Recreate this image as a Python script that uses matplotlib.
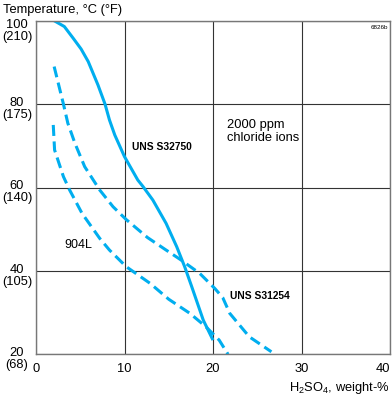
import numpy as np
import matplotlib
matplotlib.use('Agg')
import matplotlib.pyplot as plt
import matplotlib.transforms as mtransforms

plt.rcParams['font.family'] = ['Liberation Sans', 'DejaVu Sans']
plt.rcParams['mathtext.fontset'] = 'custom'
plt.rcParams['mathtext.rm'] = 'Liberation Sans'
plt.rcParams['mathtext.it'] = 'Liberation Sans:italic'

# 数据 (H2SO4 wt-%, 温度 °C)
s32750_x = [2.05, 3.2, 4.2, 5.1, 5.9, 7.0, 7.8, 8.3, 8.9, 10.0, 11.5, 12.1, 13.2, 14.7, 15.9, 16.8, 17.6, 18.9, 20.0]
s32750_y = [100, 98.6, 95.8, 93.2, 90.2, 84.6, 80, 76.2, 72.6, 67.4, 61.8, 60.2, 57, 51.4, 45.8, 41, 36.2, 28.2, 23.4]

s31254_x = [2.05, 3.1, 3.6, 4.4, 5.5, 7.2, 8.7, 10.2, 12.6, 14.7, 16.4, 18.5, 20.2, 21.1, 21.9, 24.1, 26.6]
s31254_y = [89, 80, 75.4, 70.6, 65, 59.4, 55.4, 52.3, 48.0, 45, 42.6, 39.4, 35.8, 33.6, 29.8, 24.2, 20.6]

l904_x = [1.95, 2.1, 3.1, 3.8, 5.2, 7.2, 8.3, 10.2, 12.9, 15.0, 17.4, 19.2, 20.7, 21.7]
l904_y = [75, 69, 62.6, 59.4, 53.8, 47.8, 45, 41, 37, 33.2, 29.8, 26.6, 23.4, 20.0]

xticks = [0, 10, 20, 30, 40]
yticks = [20, 40, 60, 80, 100]
ytick_labels = ['20\n(68)', '40\n(105)', '60\n(140)', '80\n(175)', '100\n(210)']

blue = '#00AEEF'

fig = plt.figure(figsize=(3.92, 4.0), dpi=100, facecolor='w')
ax = fig.add_axes([36 / 392, 1 - 354.3 / 400, 354 / 392, 333.6 / 400])

ax.plot(s32750_x, s32750_y, color=blue, lw=2.2, solid_capstyle='butt', solid_joinstyle='round')
ax.plot(s31254_x, s31254_y, color=blue, lw=2.2, linestyle=(0, (3.6, 1.8)), dash_joinstyle='round')
ax.plot(l904_x, l904_y, color=blue, lw=2.2, linestyle=(0, (3.6, 1.8)), dash_joinstyle='round')

ax.set_xlim(0, 40)
ax.set_ylim(20, 100)
ax.set_xticks(xticks)
ax.set_xticklabels([str(v) for v in xticks], fontsize=9.3)
ax.get_xticklabels()[-1].set_ha('right')
ax.set_yticks(yticks)
ax.set_yticklabels([])
ax.tick_params(length=0)
ax.tick_params(axis='x', pad=6)

ax.grid(True, color='#333333', lw=0.8)
for sp in ax.spines.values():
    sp.set_color('#777777')
    sp.set_linewidth(1.0)

# y 轴双单位刻度
for v, lab in zip(yticks, ytick_labels):
    dy = -10 if v == yticks[-1] else -5
    ytrans = mtransforms.offset_copy(ax.get_yaxis_transform(), fig=fig, x=-19, y=dy, units='dots')
    ax.text(0, v, lab, transform=ytrans, ha='center', va='center', fontsize=9.3,
            linespacing=1.0, multialignment='center', clip_on=False)

ax.text(10.9, 69.8, 'UNS S32750', fontsize=7.4, fontweight='bold', ha='left', va='center')
ax.text(21.9, 34.0, 'UNS S31254', fontsize=7.4, fontweight='bold', ha='left', va='center')
ax.text(3.2, 46.2, '904L', fontsize=9.0, ha='left', va='center')
ax.text(21.6, 73.4, '2000 ppm\nchloride ions', fontsize=9.3, ha='left', va='center', linespacing=1.15)

fig.text(3 / 392, 1 - 9.5 / 400, 'Temperature, °C (°F)', fontsize=9.3, ha='left', va='center')
fig.text(390 / 392, 1 - 388 / 400, r'H$_\mathregular{2}$SO$_\mathregular{4}$, weight-%', fontsize=9.3,
         ha='right', va='center')
fig.text(388 / 392, 1 - 27.7 / 400, '6826b', fontsize=4.5, ha='right', va='center')

plt.savefig('out.png', dpi=100)
